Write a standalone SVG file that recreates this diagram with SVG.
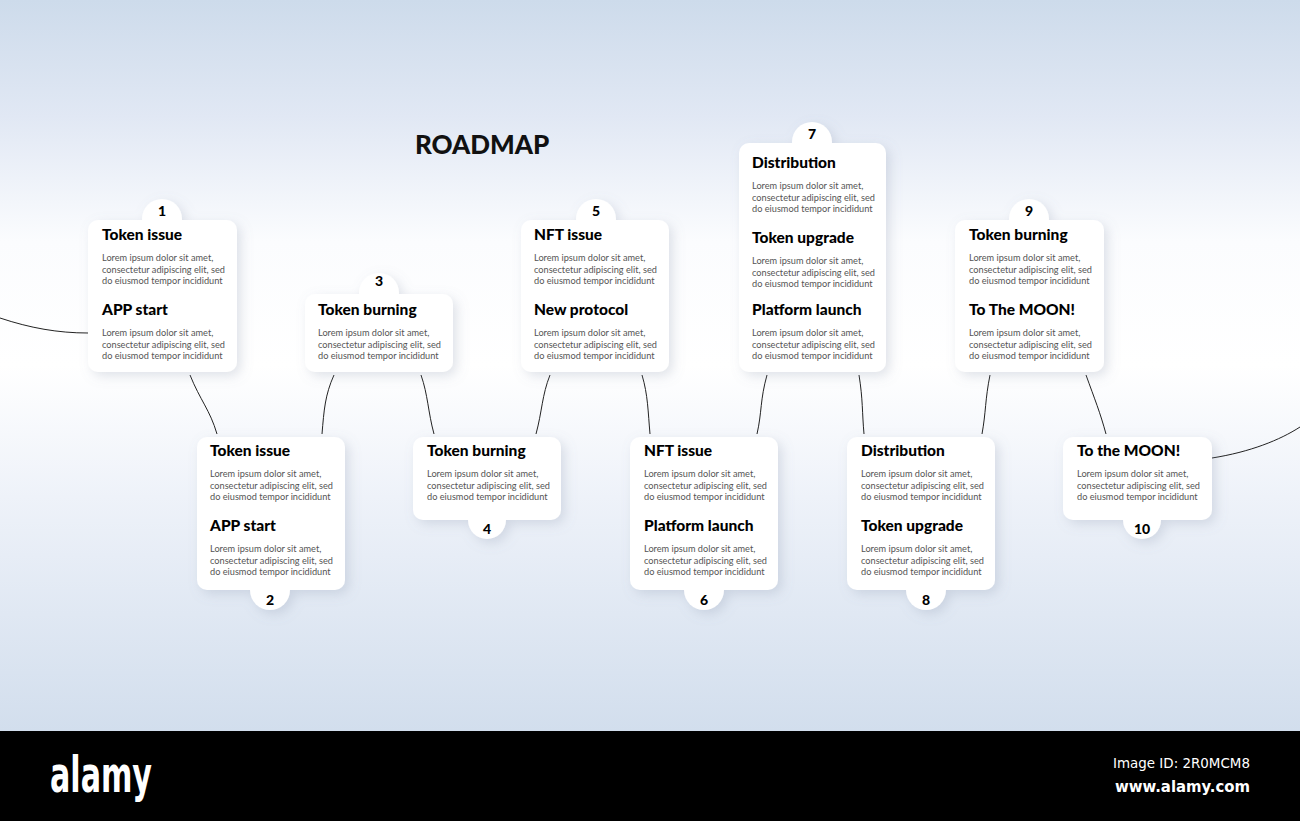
<svg xmlns="http://www.w3.org/2000/svg" width="1300" height="821" viewBox="0 0 1300 821">
<defs>
<linearGradient id="bg" x1="0" y1="0" x2="0" y2="1">
<stop offset="0" stop-color="#cddbeb"/>
<stop offset="0.16" stop-color="#e1e8f4"/>
<stop offset="0.33" stop-color="#fbfcfe"/>
<stop offset="0.5" stop-color="#ffffff"/>
<stop offset="0.68" stop-color="#eef2f9"/>
<stop offset="1" stop-color="#d2deed"/>
</linearGradient>
<filter id="sh" x="-20%" y="-20%" width="150%" height="150%">
<feDropShadow dx="4" dy="4" stdDeviation="6" flood-color="#7f8ea6" flood-opacity="0.25"/>
</filter>
</defs>
<style>
.card{fill:#ffffff}
.t{font-family:Lato,"Liberation Sans",sans-serif;font-weight:900;font-size:15.5px;fill:#000}
.b{font-family:Lato,"Liberation Sans",sans-serif;font-size:9.2px;fill:#555}
.n{font-family:Lato,"Liberation Sans",sans-serif;font-weight:900;font-size:14px;fill:#000;text-anchor:middle}
.c{fill:none;stroke:#222;stroke-width:1}
</style>
<rect x="0" y="0" width="1300" height="731" fill="url(#bg)"/>
<text x="415" y="154" font-family="Lato,'Liberation Sans',sans-serif" font-weight="900" font-size="26" fill="#111">ROADMAP</text>

<g id="connectors">
<path class="c" d="M0,318 C30,328 58,333 88,333"/>
<path class="c" d="M190,375 C200,400 210,410 217,434"/>
<path class="c" d="M334,375 C325,395 324,410 322,434"/>
<path class="c" d="M421,375 C428,395 428,412 434,434"/>
<path class="c" d="M550,375 C542,395 542,412 536,434"/>
<path class="c" d="M642,375 C648,395 648,412 650,434"/>
<path class="c" d="M767,375 C760,400 762,412 757,434"/>
<path class="c" d="M859,375 C863,400 862,412 864,434"/>
<path class="c" d="M990,375 C985,400 986,412 982,434"/>
<path class="c" d="M1086,375 C1095,400 1100,412 1106,434"/>
<path class="c" d="M1212,458 C1250,452 1280,440 1300,427"/>
</g>

<g id="node1">
<g class="card" filter="url(#sh)"><rect x="88" y="220" width="149" height="152" rx="10"/><circle cx="162" cy="219" r="20"/></g>
<text class="n" x="162" y="216">1</text>
<text class="t" x="102" y="240">Token issue</text>
<text class="b" x="102" y="261">Lorem ipsum dolor sit amet,</text>
<text class="b" x="102" y="273">consectetur adipiscing elit, sed</text>
<text class="b" x="102" y="284">do eiusmod tempor incididunt</text>
<text class="t" x="102" y="315">APP start</text>
<text class="b" x="102" y="336">Lorem ipsum dolor sit amet,</text>
<text class="b" x="102" y="348">consectetur adipiscing elit, sed</text>
<text class="b" x="102" y="359">do eiusmod tempor incididunt</text>
</g>

<g id="node2">
<g class="card" filter="url(#sh)"><rect x="197" y="437" width="148" height="153" rx="10"/><circle cx="270" cy="590" r="20"/></g>
<text class="n" x="270" y="605">2</text>
<text class="t" x="210" y="456">Token issue</text>
<text class="b" x="210" y="477">Lorem ipsum dolor sit amet,</text>
<text class="b" x="210" y="489">consectetur adipiscing elit, sed</text>
<text class="b" x="210" y="500">do eiusmod tempor incididunt</text>
<text class="t" x="210" y="531">APP start</text>
<text class="b" x="210" y="552">Lorem ipsum dolor sit amet,</text>
<text class="b" x="210" y="564">consectetur adipiscing elit, sed</text>
<text class="b" x="210" y="575">do eiusmod tempor incididunt</text>
</g>

<g id="node3">
<g class="card" filter="url(#sh)"><rect x="305" y="294" width="148" height="78" rx="10"/><circle cx="379" cy="293" r="20"/></g>
<text class="n" x="379" y="286">3</text>
<text class="t" x="318" y="315">Token burning</text>
<text class="b" x="318" y="336">Lorem ipsum dolor sit amet,</text>
<text class="b" x="318" y="348">consectetur adipiscing elit, sed</text>
<text class="b" x="318" y="359">do eiusmod tempor incididunt</text>
</g>

<g id="node4">
<g class="card" filter="url(#sh)"><rect x="413" y="437" width="148" height="83" rx="10"/><circle cx="487" cy="520" r="19"/></g>
<text class="n" x="487" y="534">4</text>
<text class="t" x="427" y="456">Token burning</text>
<text class="b" x="427" y="477">Lorem ipsum dolor sit amet,</text>
<text class="b" x="427" y="489">consectetur adipiscing elit, sed</text>
<text class="b" x="427" y="500">do eiusmod tempor incididunt</text>
</g>

<g id="node5">
<g class="card" filter="url(#sh)"><rect x="521" y="220" width="148" height="152" rx="10"/><circle cx="596" cy="219" r="20"/></g>
<text class="n" x="596" y="216">5</text>
<text class="t" x="534" y="240">NFT issue</text>
<text class="b" x="534" y="261">Lorem ipsum dolor sit amet,</text>
<text class="b" x="534" y="273">consectetur adipiscing elit, sed</text>
<text class="b" x="534" y="284">do eiusmod tempor incididunt</text>
<text class="t" x="534" y="315">New protocol</text>
<text class="b" x="534" y="336">Lorem ipsum dolor sit amet,</text>
<text class="b" x="534" y="348">consectetur adipiscing elit, sed</text>
<text class="b" x="534" y="359">do eiusmod tempor incididunt</text>
</g>

<g id="node6">
<g class="card" filter="url(#sh)"><rect x="630" y="437" width="148" height="153" rx="10"/><circle cx="704" cy="590" r="20"/></g>
<text class="n" x="704" y="605">6</text>
<text class="t" x="644" y="456">NFT issue</text>
<text class="b" x="644" y="477">Lorem ipsum dolor sit amet,</text>
<text class="b" x="644" y="489">consectetur adipiscing elit, sed</text>
<text class="b" x="644" y="500">do eiusmod tempor incididunt</text>
<text class="t" x="644" y="531">Platform launch</text>
<text class="b" x="644" y="552">Lorem ipsum dolor sit amet,</text>
<text class="b" x="644" y="564">consectetur adipiscing elit, sed</text>
<text class="b" x="644" y="575">do eiusmod tempor incididunt</text>
</g>

<g id="node7">
<g class="card" filter="url(#sh)"><rect x="739" y="143" width="147" height="229" rx="10"/><circle cx="812" cy="142" r="20"/></g>
<text class="n" x="812" y="139">7</text>
<text class="t" x="752" y="168">Distribution</text>
<text class="b" x="752" y="189">Lorem ipsum dolor sit amet,</text>
<text class="b" x="752" y="201">consectetur adipiscing elit, sed</text>
<text class="b" x="752" y="212">do eiusmod tempor incididunt</text>
<text class="t" x="752" y="243">Token upgrade</text>
<text class="b" x="752" y="264">Lorem ipsum dolor sit amet,</text>
<text class="b" x="752" y="276">consectetur adipiscing elit, sed</text>
<text class="b" x="752" y="287">do eiusmod tempor incididunt</text>
<text class="t" x="752" y="315">Platform launch</text>
<text class="b" x="752" y="336">Lorem ipsum dolor sit amet,</text>
<text class="b" x="752" y="348">consectetur adipiscing elit, sed</text>
<text class="b" x="752" y="359">do eiusmod tempor incididunt</text>
</g>

<g id="node8">
<g class="card" filter="url(#sh)"><rect x="847" y="437" width="148" height="153" rx="10"/><circle cx="926" cy="590" r="20"/></g>
<text class="n" x="926" y="605">8</text>
<text class="t" x="861" y="456">Distribution</text>
<text class="b" x="861" y="477">Lorem ipsum dolor sit amet,</text>
<text class="b" x="861" y="489">consectetur adipiscing elit, sed</text>
<text class="b" x="861" y="500">do eiusmod tempor incididunt</text>
<text class="t" x="861" y="531">Token upgrade</text>
<text class="b" x="861" y="552">Lorem ipsum dolor sit amet,</text>
<text class="b" x="861" y="564">consectetur adipiscing elit, sed</text>
<text class="b" x="861" y="575">do eiusmod tempor incididunt</text>
</g>

<g id="node9">
<g class="card" filter="url(#sh)"><rect x="955" y="220" width="149" height="152" rx="10"/><circle cx="1029" cy="219" r="20"/></g>
<text class="n" x="1029" y="216">9</text>
<text class="t" x="969" y="240">Token burning</text>
<text class="b" x="969" y="261">Lorem ipsum dolor sit amet,</text>
<text class="b" x="969" y="273">consectetur adipiscing elit, sed</text>
<text class="b" x="969" y="284">do eiusmod tempor incididunt</text>
<text class="t" x="969" y="315">To The MOON!</text>
<text class="b" x="969" y="336">Lorem ipsum dolor sit amet,</text>
<text class="b" x="969" y="348">consectetur adipiscing elit, sed</text>
<text class="b" x="969" y="359">do eiusmod tempor incididunt</text>
</g>

<g id="node10">
<g class="card" filter="url(#sh)"><rect x="1063" y="437" width="149" height="83" rx="10"/><circle cx="1142" cy="520" r="19"/></g>
<text class="n" x="1142" y="534">10</text>
<text class="t" x="1077" y="456">To the MOON!</text>
<text class="b" x="1077" y="477">Lorem ipsum dolor sit amet,</text>
<text class="b" x="1077" y="489">consectetur adipiscing elit, sed</text>
<text class="b" x="1077" y="500">do eiusmod tempor incididunt</text>
</g>

<g id="footer">
<rect x="0" y="731" width="1300" height="90" fill="#000"/>
<text x="50" y="792" font-family="'DejaVu Sans Condensed','DejaVu Sans',sans-serif" font-weight="700" font-size="50" fill="#fff" textLength="102" lengthAdjust="spacingAndGlyphs">alamy</text>
<text x="1250" y="768" text-anchor="end" font-family="'DejaVu Sans Condensed','DejaVu Sans',sans-serif" font-size="14" fill="#fff" textLength="137" lengthAdjust="spacingAndGlyphs">Image ID: 2R0MCM8</text>
<text x="1250" y="792" text-anchor="end" font-family="'DejaVu Sans Condensed','DejaVu Sans',sans-serif" font-weight="700" font-size="16" fill="#fff" textLength="135" lengthAdjust="spacingAndGlyphs">www.alamy.com</text>
</g>
</svg>
